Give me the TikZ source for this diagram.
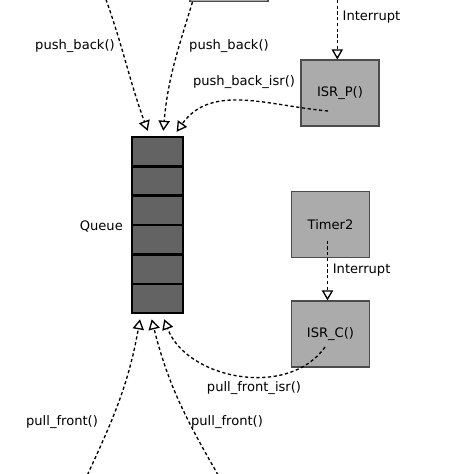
\documentclass[tikz,border=0pt]{standalone}
\usepackage{fontspec}
\setmainfont{DejaVu Sans}
\usetikzlibrary{arrows}

\begin{document}
\begin{tikzpicture}[
		x=0.025cm, y=-0.025cm,
		font=\fontsize{9.3}{11}\selectfont,
		call/.style={>=open triangle 60, draw=black, line width=0.95pt, dash pattern=on 2.3pt off 1.8pt},
		box/.style={rectangle, draw=black!70, fill=black!33, line width=0.8pt, minimum width=1.95cm, minimum height=1.65cm, inner sep=0pt},
		cell/.style={rectangle, draw=black, fill=black!61, line width=1.7pt, minimum width=1.275cm, minimum height=0.735cm, inner sep=0pt},
	]
		\useasboundingbox (0,0) rectangle (474,474);
		\clip (0,0) rectangle (474,474);
		\foreach \i in {1,...,6}
			\node[cell] (q\i) at (157.5, {137+29.35*(\i-0.5)}) {};
		\path (q3.south west) ++(-3,0) node[left] (queue) {Queue};
		\node[box] (prod) at (229,-31.5) {};
		\node[box] (isrp) at (340,93) {ISR\_P()};
		\node[box] (timer) at (330.5,224.5) {Timer2};
		\node[box] (isrc) at (330.5,334) {ISR\_C()};
		\coordinate (srcA) at (104,-6);
		\coordinate (srcI) at (337.3,-6);
		\coordinate (sinkA) at (85,480);
		\coordinate (sinkB) at (221,480);
		\path (prod.south west) ++(3,0) coordinate (srcB);
		\path (isrp.center) ++(-12,18) coordinate (pisr);
		\path (timer.center) ++(-3,16) coordinate (tint);
		\path (isrc.center) ++(-5.5,13) coordinate (cisr);
		\path (q1.north) ++(-9.8,-5) coordinate (inA) ++(15.6,0) coordinate (inB) ++(13.4,1) coordinate (inC);
		\path (q6.south) ++(-17.5,5) coordinate (outA) ++(11.7,0) coordinate (outB) ++(12.6,0) coordinate (outC);
		\draw[call, ->] (srcA) to[out=-70, in=110] (inA);
		\draw[call, ->] (srcB) to[out=-107, in=85] (inB);
		\draw[call, ->] (pisr) to[out=175, in=55] (inC);
		\draw[call, ->] (srcI) -- (srcI |- isrp.north) node[pos=0.35, right] (irqP) {Interrupt};
		\draw[call, ->] (tint) -- (tint |- isrc.north) node[midway, right] (irqC) {Interrupt};
		\draw[call, ->] (cisr) to[out=-125, in=-70] (outC);
		\draw[call, ->] (sinkA) to[out=65, in=-100] (outA);
		\draw[call, ->] (sinkB) to[out=120, in=-76] (outB);
		\node (lpushA) at (75,46) {push\_back()};
		\node (lpushB) at (229,46) {push\_back()};
		\node (lpushI) at (244,82) {push\_back\_isr()};
		\node (lpullI) at (254,388) {pull\_front\_isr()};
		\node (lpullA) at (62,422) {pull\_front()};
		\node (lpullB) at (227,422) {pull\_front()};
	\end{tikzpicture}
\end{document}
